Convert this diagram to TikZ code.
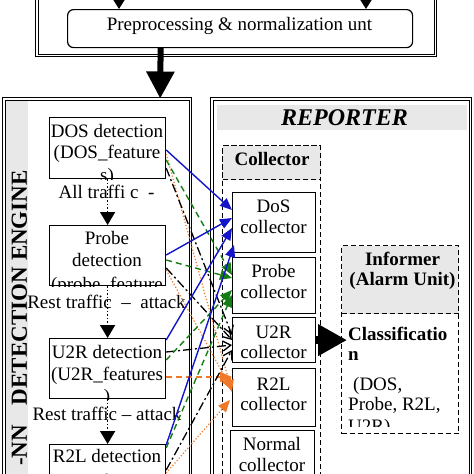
\documentclass[tikz,border=0pt]{standalone}
\usepackage{fontspec}
\setmainfont{Liberation Serif}
\usetikzlibrary{arrows.meta,calc}
\definecolor{cblue}{RGB}{20,20,200}
\definecolor{cgreen}{RGB}{20,125,20}
\definecolor{corange}{RGB}{240,120,40}
\definecolor{cgray}{RGB}{232,232,232}
\begin{document}
\begin{tikzpicture}[x=1pt,y=-1pt,font=\fontsize{19}{22}\selectfont,
  panel/.style={draw, double, double distance=1.8pt, line width=0.9pt, inner sep=0pt, anchor=north west},
  box/.style={draw, line width=1.2pt, inner sep=0pt, anchor=north west, fill=white},
  dbox/.style={draw, dash pattern=on 5pt off 3pt, line width=1.4pt, inner sep=0pt, anchor=north west},
  txt/.style={anchor=base, inner sep=0pt},
  ltxt/.style={anchor=base west, inner sep=0pt},
  flowarr/.style={line width=1.5pt, dotted, -{Triangle[length=13pt,width=15pt]}},
  bluearr/.style={cblue, line width=1.4pt, -{Triangle[length=12pt,width=10pt]}},
  greenarr/.style={cgreen, line width=1.4pt, dash pattern=on 6pt off 4pt, -{Triangle[length=12pt,width=10pt]}},
  blackarr/.style={black, line width=1.3pt, dash pattern=on 9pt off 3pt on 2pt off 3pt, -{Straight Barb[length=8pt,width=10pt]}},
  orgdash/.style={corange, line width=1.4pt, dash pattern=on 6pt off 4pt, -{Triangle[length=12pt,width=10pt]}},
  orgdot/.style={corange, line width=1.2pt, dotted, -{Triangle[length=12pt,width=10pt]}}
]
\useasboundingbox (0,0) rectangle (474,474);
\clip (0,0) rectangle (474,474);

% ---------- top unit ----------
\node[panel, minimum width=398.5pt, minimum height=75pt] (top) at (36.5,-20) {};
\node[box, rounded corners=6pt, minimum width=345pt, minimum height=38pt] (prep) at (67,9) {};
\node[txt] (preptxt) at (239.5,30) {Preprocessing \& normalization unt};
\coordinate (in1) at (119,-12);
\coordinate (in2) at (366,-12);
\draw[line width=1.3pt,-{Triangle[length=9pt,width=11pt]}] (in1) -- (in1 |- prep.north);
\draw[line width=1.3pt,-{Triangle[length=9pt,width=11pt]}] (in2) -- (in2 |- prep.north);

% ---------- panels ----------
\node[panel, minimum width=186.5pt, minimum height=400pt] (det) at (3.5,98.5) {};
\node[panel, minimum width=258.5pt, minimum height=400pt] (rep) at (211.5,98.5) {};
\fill[cgray] (5.6,100.6) rectangle (28,480);
\fill[cgray] (217,105) rectangle (467,130);

\draw[line width=6pt,-{Triangle[length=27pt,width=27pt]}] ([xshift=-79.5pt]prep.south) -- ([xshift=63pt]det.north);

\node[rotate=90, anchor=base east, inner sep=0pt, font=\bfseries\fontsize{23}{25}\selectfont] (lbl) at (27,170) {-NN\hspace{20pt}DETECTION\hspace{6pt}ENGINE};
\node[txt, font=\bfseries\itshape\fontsize{24}{26}\selectfont] (reptxt) at (344.5,125) {REPORTER};

% ---------- detection boxes ----------
\node[box, minimum width=116pt, minimum height=61pt] (dosd) at (49,117) {};
\node[box, minimum width=116pt, minimum height=60pt] (probed) at (49,225) {};
\node[box, minimum width=116pt, minimum height=60pt] (u2rd) at (49,338) {};
\node[box, minimum width=116pt, minimum height=60pt] (r2ld) at (49,444) {};

\begin{scope}
\clip (dosd.north west) rectangle (dosd.south east);
\node[txt] at (107,137) {DOS detection};
\node[txt] at (107,158) {(DOS\_feature};
\node[txt] at (107,181) {s)};
\end{scope}
\begin{scope}
\clip (probed.north west) rectangle (probed.south east);
\node[txt] at (107,244) {Probe};
\node[txt] at (107,266) {detection};
\node[txt] at (107,290) {(probe\_feature};
\end{scope}
\begin{scope}
\clip (u2rd.north west) rectangle (u2rd.south east);
\node[txt] at (107,358) {U2R detection};
\node[txt] at (107,380) {(U2R\_features};
\node[txt] at (107,402) {)};
\end{scope}
\begin{scope}
\clip (r2ld.north west) rectangle (r2ld.south east);
\node[txt] at (107,462) {R2L detection};
\node[txt] at (107,487) {(R2L\_features};
\end{scope}

\draw[flowarr] (dosd.south) -- (probed.north);
\draw[flowarr] (probed.south) -- (u2rd.north);
\draw[flowarr] (u2rd.south) -- (r2ld.north);
\node[txt] (t1) at (106.5,198) {All traffi c~~-};
\node[txt] (t2) at (106.5,308) {Rest traffic~~–~~attack};
\node[txt] (t3) at (107,420) {Rest traffic – attack};

% ---------- collector ----------
\node[dbox, minimum width=98pt, minimum height=345pt] (coll) at (222,145) {};
\node[dbox, fill=cgray, minimum width=98pt, minimum height=34pt] (collh) at (222,145) {};
\node[txt, font=\bfseries\fontsize{19}{22}\selectfont] at (272,165) {Collector};

\node[box, minimum width=83pt, minimum height=60pt] (dosc) at (232,192) {};
\node[box, minimum width=83pt, minimum height=56pt] (probec) at (232,257) {};
\node[box, minimum width=83pt, minimum height=45pt] (u2rc) at (232,317) {};
\node[box, minimum width=83pt, minimum height=58pt] (r2lc) at (232,368) {};
\node[box, minimum width=84pt, minimum height=60pt] (normc) at (230,430) {};
\node[txt] at (273.5,212) {DoS};
\node[txt] at (273.5,233) {collector};
\node[txt] at (273.5,277) {Probe};
\node[txt] at (273.5,298) {collector};
\node[txt] at (273.5,338) {U2R};
\node[txt] at (273.5,358) {collector};
\node[txt] at (273.5,390) {R2L};
\node[txt] at (273.5,410) {collector};
\node[txt] at (272,450) {Normal};
\node[txt] at (272,471) {collector};

% ---------- informer ----------
\node[dbox, minimum width=117pt, minimum height=188pt] (inf) at (341,245) {};
\node[dbox, fill=cgray, minimum width=117pt, minimum height=68pt] (infh) at (341,245) {};
\node[txt, font=\bfseries\fontsize{19}{22}\selectfont] at (402.5,265) {Informer};
\node[txt, font=\bfseries\fontsize{19}{22}\selectfont] at (402.5,285) {(Alarm Unit)};
\begin{scope}
\clip (341,313) rectangle (458,426);
\node[ltxt, font=\bfseries\fontsize{19}{22}\selectfont] at (348,340) {Classificatio};
\node[ltxt, font=\bfseries\fontsize{19}{22}\selectfont] at (348,360) {n};
\node[ltxt] at (353,390) {(DOS,};
\node[ltxt] at (348,410) {Probe, R2L,};
\node[ltxt] at (348,432) {U2R)};
\end{scope}

\draw[line width=8pt,-{Triangle[length=29pt,width=30pt]}] (u2rc.east) -- ($(inf.west |- u2rc.east)+(6,0)$);

% ---------- connectors ----------
\draw[orgdot] ([yshift=-37pt]dosd.north east) -- ([yshift=-24pt]r2lc.north west);
\draw[orgdot] ([yshift=-45pt]probed.north east) -- ([yshift=-22pt]r2lc.north west);
\draw[orgdot] ([yshift=-29pt]r2ld.north east) -- ([xshift=-2pt,yshift=-32pt]r2lc.north west);
\draw[orgdash] ([yshift=-39pt]u2rd.north east) -- ([yshift=-9pt]r2lc.north west);

\draw[blackarr] ([yshift=-51pt]dosd.north east) -- ([yshift=-18pt]u2rc.north west);
\draw[blackarr] ([yshift=-43pt]probed.north east) -- ([yshift=-23pt]u2rc.north west);
\draw[blackarr] ([yshift=-14pt]u2rd.north east) -- ([yshift=-28pt]u2rc.north west);
\draw[blackarr] ([yshift=-26pt]r2ld.north east) -- ([yshift=-33pt]u2rc.north west);

\draw[greenarr] ([yshift=-43pt]dosd.north east) -- ([yshift=-18pt]probec.north west);
\draw[greenarr] ([yshift=-35pt]probed.north east) -- ([yshift=-21pt]probec.north west);
\draw[greenarr] ([yshift=-22pt]u2rd.north east) -- ([yshift=-33pt]probec.north west);
\draw[greenarr] ([yshift=-4pt]r2ld.north east) -- ([yshift=-38pt]probec.north west);

\draw[bluearr] ([yshift=-33pt]dosd.north east) -- ([yshift=-18pt]dosc.north west);
\draw[bluearr] ([yshift=-30pt]probed.north east) -- ([yshift=-26pt]dosc.north west);
\draw[bluearr] ([yshift=-2pt]u2rd.north east) -- ([yshift=-36pt]dosc.north west);
\draw[bluearr] ([yshift=-1pt]r2ld.north east) -- ([xshift=2pt,yshift=-53pt]dosc.north west);
\end{tikzpicture}
\end{document}
